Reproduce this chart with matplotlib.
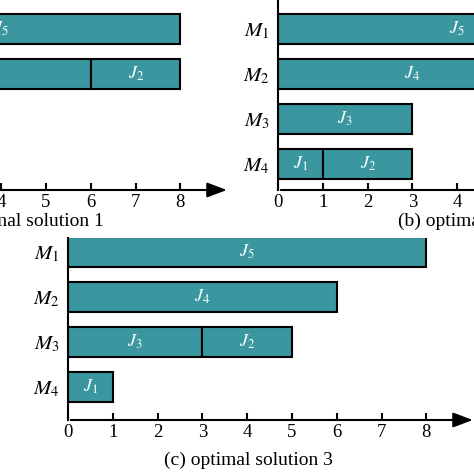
import matplotlib
matplotlib.use("Agg")
import matplotlib.pyplot as plt

plt.rcParams['font.family'] = ['Liberation Serif', 'DejaVu Serif']
plt.rcParams['mathtext.fontset'] = 'stix'

machines = ["$M_1$", "$M_2$", "$M_3$", "$M_4$"]
xticks = [0, 1, 2, 3, 4, 5, 6, 7, 8]
sol1_machine = [0, 1, 1, 2, 3]
sol1_job = ["$J_5$", "$J_4$", "$J_2$", "$J_3$", "$J_1$"]
sol1_start = [0, 0, 6, 0, 0]
sol1_end = [8, 6, 8, 3, 1]
sol2_machine = [0, 1, 2, 3, 3]
sol2_job = ["$J_5$", "$J_4$", "$J_3$", "$J_1$", "$J_2$"]
sol2_start = [0, 0, 0, 0, 1]
sol2_end = [8, 6, 3, 1, 3]
sol3_machine = [0, 1, 2, 2, 3]
sol3_job = ["$J_5$", "$J_4$", "$J_3$", "$J_2$", "$J_1$"]
sol3_start = [0, 0, 0, 3, 0]
sol3_end = [8, 6, 3, 5, 1]

W = H = 474
fig = plt.figure(figsize=(4.74, 4.74), dpi=100)
color = "#3a979f"
S = 44.8
ROW = 45.0

def panel(x0, m1_py, axis_py, top_py, machine, job, start, end, xmax=9.1):
    ybot = 4 - (axis_py - m1_py) / ROW
    ytop = 4 + (m1_py - top_py) / ROW
    ax = fig.add_axes([x0 / W, 1 - axis_py / H, xmax * S / W, (axis_py - top_py) / H])
    ax.set_xlim(0, xmax)
    ax.set_ylim(ybot, ytop)
    for m, j, s, e in zip(machine, job, start, end):
        y = 4 - m
        ax.barh(y, e - s, left=s, height=0.67, color=color, edgecolor="black", linewidth=1.5, zorder=2)
        ax.text((s + e) / 2, y, j, color="white", ha="center", va="center", fontsize=13, zorder=3)
    for sp in ["top", "right", "bottom"]:
        ax.spines[sp].set_visible(False)
    ax.spines["left"].set_linewidth(1.5)
    ax.annotate("", xy=(xmax, ybot), xytext=(0, ybot), xycoords="data",
                arrowprops=dict(arrowstyle="-|>,head_length=1.2,head_width=0.45", color="black", lw=1.5),
                annotation_clip=False)
    ax.set_xticks(xticks)
    ax.set_xticklabels([str(t) for t in xticks], fontsize=13.5)
    ax.tick_params(axis="x", direction="in", length=5, width=1.5, pad=3)
    ax.set_yticks([4, 3, 2, 1])
    ax.set_yticklabels(machines, fontsize=15)
    ax.tick_params(axis="y", length=0, pad=6)
    return ax

panel(-178, 29, 190, -5, sol1_machine, sol1_job, sol1_start, sol1_end)
panel(278, 29, 190, -5, sol2_machine, sol2_job, sol2_start, sol2_end)
panel(68, 252, 420, 238, sol3_machine, sol3_job, sol3_start, sol3_end)

fig.text(104 / W, 1 - 221 / H, "(a) optimal solution 1", ha="right", va="center", fontsize=14)
fig.text(398 / W, 1 - 221 / H, "(b) optimal solution 2", ha="left", va="center", fontsize=14)
fig.text(248 / W, 1 - 460 / H, "(c) optimal solution 3", ha="center", va="center", fontsize=14)

fig.savefig("out.png", dpi=100)
